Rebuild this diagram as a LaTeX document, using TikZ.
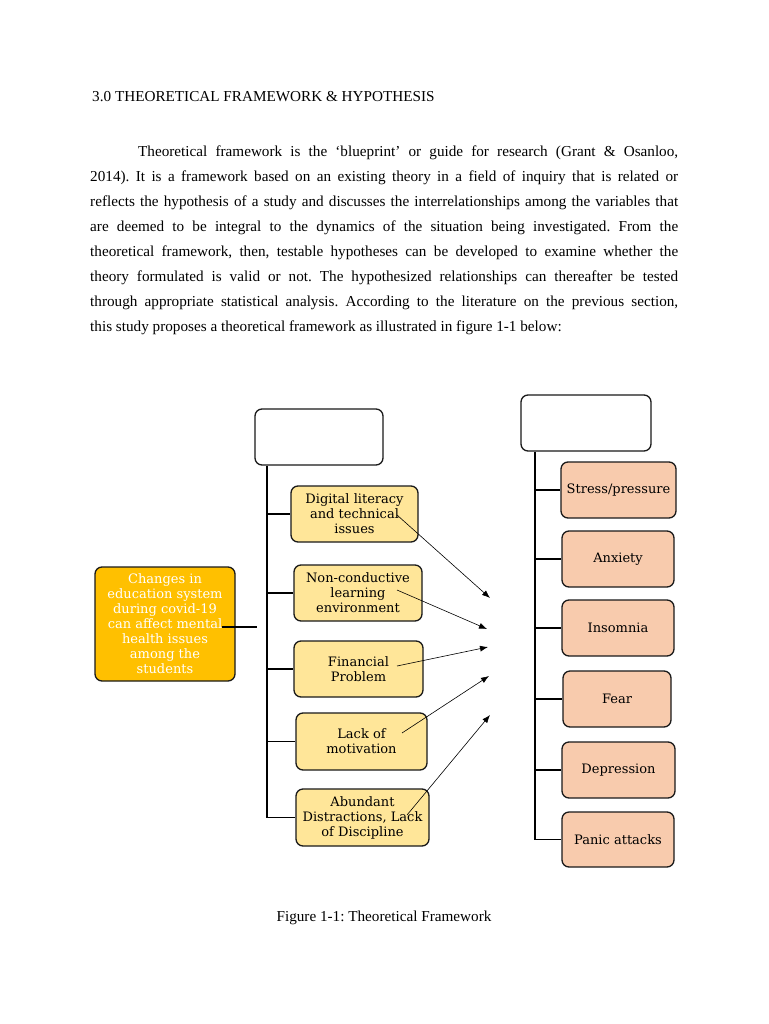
\documentclass[tikz,border=0pt]{standalone}
\usepackage{fontspec}
\setmainfont{Liberation Serif}
\newfontfamily\boxfont{DejaVu Serif}
\usetikzlibrary{arrows.meta}
\definecolor{lightgold}{HTML}{FFE699}
\definecolor{gold}{HTML}{FFC000}
\definecolor{peach}{HTML}{F8CBAD}
\definecolor{edge}{HTML}{1A1A1A}
\frenchspacing
\begin{document}
\begin{tikzpicture}[x=1pt,y=-1pt,
 box/.style={draw=edge, line width=1.3pt, rounded corners=7pt, align=center, inner sep=1pt, font=\boxfont\fontsize{13}{15}\selectfont},
 blank/.style={box, fill=white},
 cause/.style={box, fill=lightgold},
 effect/.style={box, fill=peach},
 source/.style={box, fill=gold, text=white},
 trunk/.style={line width=1.8pt, draw=black},
 branch/.style={line width=1.4pt, draw=black},
 link/.style={line width=0.6pt, draw=black, -{Latex[length=8pt,width=6pt]}},
 plain/.style={line width=1.2pt, draw=black},
 bodytext/.style={inner sep=0pt, font=\fontsize{15.2}{25}\selectfont},
]
\useasboundingbox[fill=white] (0,0) rectangle (768,1024);

% heading and paragraph
\node[bodytext, anchor=base west] (title) at (92,102) {3.0 THEORETICAL FRAMEWORK \& HYPOTHESIS};
\node[bodytext, anchor=base west] (para) at (90,157) {\parbox[t]{588pt}{\fontsize{15.2}{25}\selectfont\frenchspacing
\hspace*{48pt}Theoretical framework is the ‘blueprint’ or guide for research (Grant \& Osanloo,\linebreak
2014). It is a framework based on an existing theory in a field of inquiry that is related or\linebreak
reflects the hypothesis of a study and discusses the interrelationships among the variables that\linebreak
are deemed to be integral to the dynamics of the situation being investigated. From the\linebreak
theoretical framework, then, testable hypotheses can be developed to examine whether the\linebreak
theory formulated is valid or not. The hypothesized relationships can thereafter be tested\linebreak
through appropriate statistical analysis. According to the literature on the previous section,\linebreak
this study proposes a theoretical framework as illustrated in figure 1-1 below:}};

% header boxes
\node[blank, minimum width=128pt, minimum height=56pt] (lhead) at (319,437) {};
\node[blank, minimum width=130pt, minimum height=56pt] (rhead) at (586,423) {};

% source
\node[source, minimum width=140pt, minimum height=114pt] (src) at (165,624) {Changes in\\education system\\during covid-19\\can affect mental\\health issues\\among the\\students};

% causes
\node[cause, minimum width=127pt, minimum height=56pt] (c1) at (354.5,514) {Digital literacy\\and technical\\issues};
\node[cause, minimum width=128pt, minimum height=56pt] (c2) at (358,593) {Non-conductive\\learning\\environment};
\node[cause, minimum width=129pt, minimum height=56pt] (c3) at (358.5,669) {Financial\\Problem};
\node[cause, minimum width=131pt, minimum height=57pt] (c4) at (361.5,741.5) {Lack of\\motivation};
\node[cause, minimum width=133pt, minimum height=57pt] (c5) at (362.5,817.5) {Abundant\\Distractions, Lack\\of Discipline};

% effects
\node[effect, minimum width=115pt, minimum height=56pt] (e1) at (618.5,490) {Stress/pressure};
\node[effect, minimum width=112pt, minimum height=56pt] (e2) at (618,559) {Anxiety};
\node[effect, minimum width=112pt, minimum height=56pt] (e3) at (618,628) {Insomnia};
\node[effect, minimum width=108pt, minimum height=56pt] (e4) at (617,699) {Fear};
\node[effect, minimum width=113pt, minimum height=56pt] (e5) at (618.5,770) {Depression};
\node[effect, minimum width=112pt, minimum height=55pt] (e6) at (618,839.5) {Panic attacks};

% trunks and branches
\coordinate (lx) at (267,0);
\coordinate (rx) at (535,0);
\draw[trunk] (lhead.south -| lx) -- (c5.west -| lx);
\foreach \n in {c1,c2,c3,c4,c5} \draw[branch] (\n.west -| lx) -- (\n.west);
\draw[trunk] (rhead.south -| rx) -- (e6.west -| rx);
\foreach \n in {e1,e2,e3,e4,e5,e6} \draw[branch] (\n.west -| rx) -- (\n.west);

% source connector
\coordinate (s1) at (222,627);
\coordinate (s2) at (257,627);
\draw[plain] (s1) -- (s2);

% arrows
\coordinate (a1s) at (397,515); \coordinate (a1e) at (490,598);
\coordinate (a2s) at (397,590); \coordinate (a2e) at (487,629);
\coordinate (a3s) at (397,666); \coordinate (a3e) at (488,647);
\coordinate (a4s) at (402,733); \coordinate (a4e) at (489,676);
\coordinate (a5s) at (407,815); \coordinate (a5e) at (490,715);
\draw[link] (a1s) -- (a1e);
\draw[link] (a2s) -- (a2e);
\draw[link] (a3s) -- (a3e);
\draw[link] (a4s) -- (a4e);
\draw[link] (a5s) -- (a5e);

% caption
\node[bodytext] (caption) at (384,918) {Figure 1-1: Theoretical Framework};
\end{tikzpicture}
\end{document}
